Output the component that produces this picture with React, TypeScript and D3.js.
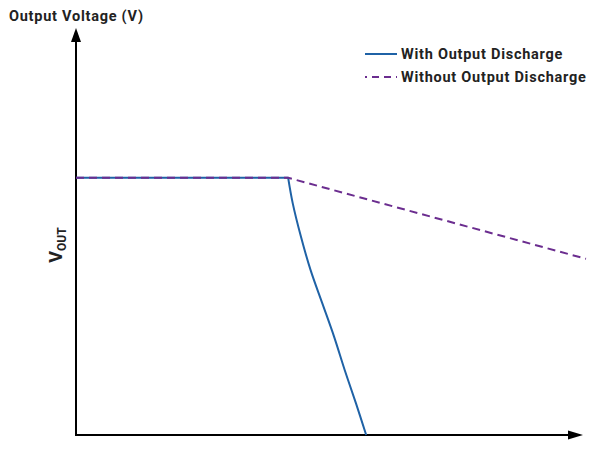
import * as d3 from "d3";
import { useEffect, useRef } from "react";

// time axis is unitless (0..100), voltage too (0..100)
const withDischargeX = [0, 41.6, 42.5, 44.1, 46.0, 48.3, 50.6, 52.7, 54.9, 56.9];
const withDischargeY = [63.5, 63.5, 57.2, 49.0, 40.7, 32.5, 24.3, 16.0, 7.8, 0];
const withoutDischargeX = [0, 41.6, 100];
const withoutDischargeY = [63.5, 63.5, 43.5];

const seriesNames = ["With Output Discharge", "Without Output Discharge"];
const seriesColors = ["#1f62a6", "#6b2d8f"];

const WIDTH = 598;
const HEIGHT = 450;
const FONT = "Roboto, 'Noto Sans', sans-serif";

export default function App() {
  const ref = useRef<SVGSVGElement>(null);

  useEffect(() => {
    if (!ref.current) return;
    const svg = d3.select(ref.current);
    svg.selectAll("*").remove();

    const x = d3.scaleLinear().domain([0, 100]).range([76, 586]);
    const y = d3.scaleLinear().domain([0, 100]).range([435, 30]);

    const line = d3.line<[number, number]>()
      .x(d => x(d[0]))
      .y(d => y(d[1]));
    const smooth = d3.line<[number, number]>()
      .x(d => x(d[0]))
      .y(d => y(d[1]))
      .curve(d3.curveCatmullRom.alpha(0.5));

    const withPts = withDischargeX.map((v, i) => [v, withDischargeY[i]] as [number, number]);
    const withoutPts = withoutDischargeX.map((v, i) => [v, withoutDischargeY[i]] as [number, number]);

    // axes with arrows
    const axisX0 = x(0);
    const axisY0 = y(0);
    svg.append("line")
      .attr("x1", axisX0).attr("y1", axisY0 + 1)
      .attr("x2", axisX0).attr("y2", 40)
      .attr("stroke", "#000").attr("stroke-width", 2);
    svg.append("path")
      .attr("d", `M${axisX0},28 L${axisX0 - 5},42 L${axisX0 + 5},42 Z`)
      .attr("fill", "#000");
    svg.append("line")
      .attr("x1", axisX0 - 1).attr("y1", axisY0)
      .attr("x2", 570).attr("y2", axisY0)
      .attr("stroke", "#000").attr("stroke-width", 2);
    svg.append("path")
      .attr("d", `M583,${axisY0} L568,${axisY0 - 4.5} L568,${axisY0 + 4.5} Z`)
      .attr("fill", "#000");

    // series: flat part straight, discharge part smoothed
    svg.append("path")
      .attr("d", (line(withPts.slice(0, 2)) ?? "") + (smooth(withPts.slice(1)) ?? "").replace(/^M[^A-Za-z]*/, ""))
      .attr("fill", "none")
      .attr("stroke", seriesColors[0])
      .attr("stroke-width", 2)
      .attr("stroke-linejoin", "round");
    svg.append("path")
      .attr("d", line(withoutPts))
      .attr("fill", "none")
      .attr("stroke", seriesColors[1])
      .attr("stroke-width", 2)
      .attr("stroke-dasharray", "8 5");

    // title
    svg.append("text")
      .attr("x", 9).attr("y", 21)
      .attr("font-family", FONT)
      .attr("font-weight", "bold")
      .attr("font-size", 14.5)
      .attr("letter-spacing", 0.75)
      .attr("fill", "#222")
      .text("Output Voltage (V)");

    // y label V_OUT
    const yl = svg.append("text")
      .attr("transform", "translate(62,245) rotate(-90)")
      .attr("text-anchor", "middle")
      .attr("font-family", FONT)
      .attr("font-weight", "bold")
      .attr("fill", "#222");
    yl.append("tspan").attr("font-size", 18).text("V");
    yl.append("tspan").attr("font-size", 12).attr("dy", 4).text("OUT");

    // legend
    const legend = svg.append("g");
    seriesNames.forEach((name, i) => {
      const ly = 54 + i * 23;
      legend.append("line")
        .attr("x1", 365).attr("x2", 397)
        .attr("y1", ly).attr("y2", ly)
        .attr("stroke", seriesColors[i])
        .attr("stroke-width", 2)
        .attr("stroke-dasharray", i === 1 ? "2 5 7 5 7 5" : null);
      legend.append("text")
        .attr("x", 401).attr("y", ly + 5)
        .attr("font-family", FONT)
        .attr("font-weight", "bold")
        .attr("font-size", 14.5)
        .attr("letter-spacing", 0.75)
        .attr("fill", "#222")
        .text(name);
    });
  }, []);

  return (
    <svg
      ref={ref}
      width={WIDTH}
      height={HEIGHT}
      style={{ position: "absolute", left: 0, top: 0, background: "#fff" }}
    />
  );
}
